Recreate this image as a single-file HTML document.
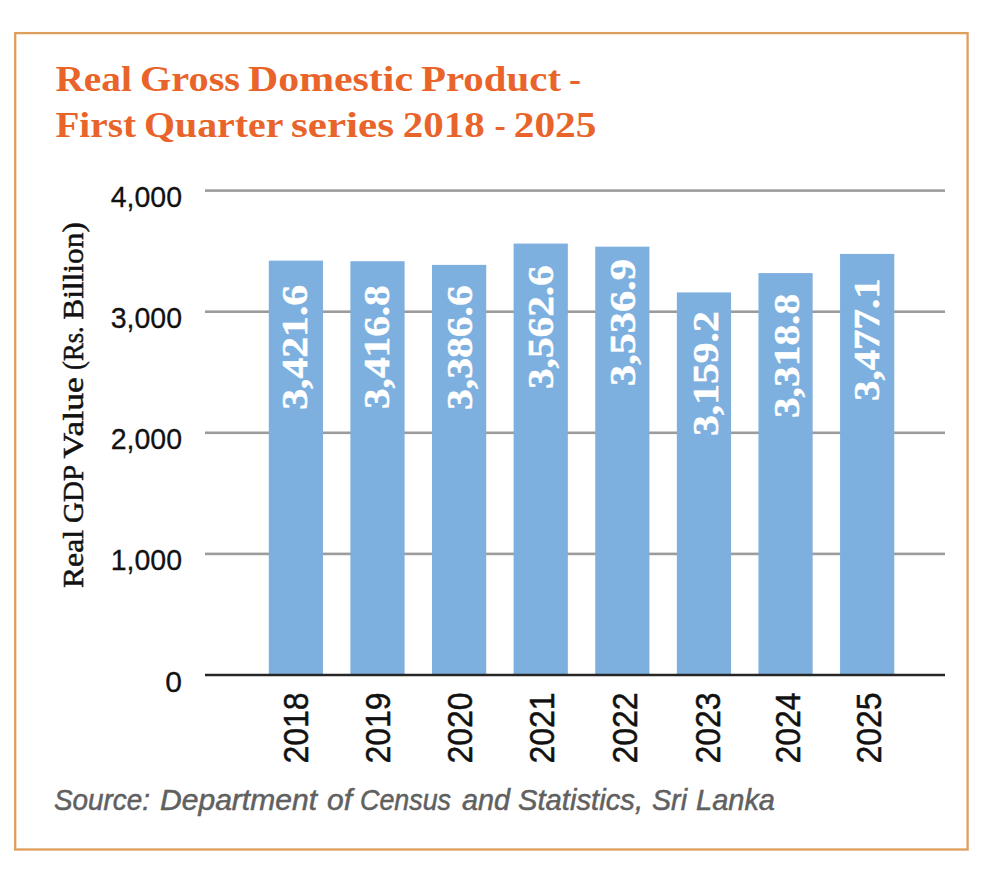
<!DOCTYPE html>
<html><head><meta charset="utf-8">
<style>
html,body{margin:0;padding:0;background:#fff;width:1000px;height:887px;overflow:hidden}
svg{display:block}
.ti{font-family:"Liberation Serif",serif;font-weight:bold;font-size:36.5px;fill:#E9642A}
.bl{font-family:"Liberation Serif",serif;font-weight:bold;font-size:36.5px;fill:#fff;stroke:#fff;stroke-width:0.5px}
.yr{font-family:"Liberation Sans",sans-serif;font-size:35px;fill:#111;stroke:#111;stroke-width:0.5px}
.tk{font-family:"Liberation Sans",sans-serif;font-size:30px;fill:#111;stroke:#111;stroke-width:0.3px}
.ax{font-family:"Liberation Serif",serif;font-size:30px;fill:#111;stroke:#111;stroke-width:0.5px}
.src{font-family:"Liberation Sans",sans-serif;font-style:italic;font-size:29px;fill:#606060;stroke:#606060;stroke-width:0.5px}
</style></head><body>
<svg width="1000" height="887" viewBox="0 0 1000 887">
<rect x="15.2" y="33.1" width="952.4" height="816.4" fill="none" stroke="#DF9F5C" stroke-width="2.3"/>
<text x="55.40" y="91.3" class="ti" textLength="76.60" lengthAdjust="spacingAndGlyphs">Real</text><text x="140.00" y="91.3" class="ti" textLength="100.00" lengthAdjust="spacingAndGlyphs">Gross</text><text x="248.00" y="91.3" class="ti" textLength="165.00" lengthAdjust="spacingAndGlyphs">Domestic</text><text x="421.00" y="91.3" class="ti" textLength="140.00" lengthAdjust="spacingAndGlyphs">Product</text><text x="569.00" y="91.3" class="ti" textLength="12.00" lengthAdjust="spacingAndGlyphs">-</text><text x="55.40" y="137" class="ti" textLength="80.60" lengthAdjust="spacingAndGlyphs">First</text><text x="144.00" y="137" class="ti" textLength="139.50" lengthAdjust="spacingAndGlyphs">Quarter</text><text x="291.00" y="137" class="ti" textLength="103.00" lengthAdjust="spacingAndGlyphs">series</text><text x="402.80" y="137" class="ti" textLength="81.80" lengthAdjust="spacingAndGlyphs">2018</text><text x="494.50" y="137" class="ti" textLength="11.20" lengthAdjust="spacingAndGlyphs">-</text><text x="513.70" y="137" class="ti" textLength="82.80" lengthAdjust="spacingAndGlyphs">2025</text>
<rect x="205" y="552.60" width="740" height="2.6" fill="#9C9C9C"/>
<rect x="205" y="431.50" width="740" height="2.6" fill="#9C9C9C"/>
<rect x="205" y="310.40" width="740" height="2.6" fill="#9C9C9C"/>
<rect x="205" y="189.30" width="740" height="2.6" fill="#9C9C9C"/>

<rect x="268.80" y="260.64" width="54.2" height="414.36" fill="#7DAFDF"/><rect x="350.41" y="261.23" width="54.2" height="413.77" fill="#7DAFDF"/><rect x="432.02" y="264.88" width="54.2" height="410.12" fill="#7DAFDF"/><rect x="513.63" y="243.57" width="54.2" height="431.43" fill="#7DAFDF"/><rect x="595.24" y="246.68" width="54.2" height="428.32" fill="#7DAFDF"/><rect x="676.85" y="292.42" width="54.2" height="382.58" fill="#7DAFDF"/><rect x="758.46" y="273.09" width="54.2" height="401.91" fill="#7DAFDF"/><rect x="840.07" y="253.92" width="54.2" height="421.08" fill="#7DAFDF"/>
<rect x="205" y="673.75" width="740" height="2.5" fill="#262626"/>
<text x="182" y="691.5" class="tk" text-anchor="end">0</text>
<text x="182" y="570.4" class="tk" text-anchor="end" textLength="71.3" lengthAdjust="spacingAndGlyphs">1,000</text>
<text x="182" y="449.3" class="tk" text-anchor="end" textLength="71.3" lengthAdjust="spacingAndGlyphs">2,000</text>
<text x="182" y="328.2" class="tk" text-anchor="end" textLength="71.3" lengthAdjust="spacingAndGlyphs">3,000</text>
<text x="182" y="207.1" class="tk" text-anchor="end" textLength="71.3" lengthAdjust="spacingAndGlyphs">4,000</text>

<text transform="translate(83,588.0) rotate(-90)" class="ax" textLength="58.0" lengthAdjust="spacingAndGlyphs">Real</text>
<text transform="translate(83,522.9) rotate(-90)" class="ax" textLength="58.2" lengthAdjust="spacingAndGlyphs">GDP</text>
<text transform="translate(83,458.4) rotate(-90)" class="ax" textLength="81.3" lengthAdjust="spacingAndGlyphs">Value</text>
<text transform="translate(83,369.9) rotate(-90)" class="ax" textLength="43.6" lengthAdjust="spacingAndGlyphs">(Rs.</text>
<text transform="translate(83,319.8) rotate(-90)" class="ax" textLength="97.7" lengthAdjust="spacingAndGlyphs">Billion)</text>

<text transform="translate(307.1,409.8) rotate(-90)" class="bl" textLength="125.0" lengthAdjust="spacingAndGlyphs">3,421.6</text><text transform="translate(307.5,763.5) rotate(-90)" class="yr" textLength="71" lengthAdjust="spacingAndGlyphs">2018</text><text transform="translate(388.8,409.0) rotate(-90)" class="bl" textLength="123.7" lengthAdjust="spacingAndGlyphs">3,416.8</text><text transform="translate(390.0,763.5) rotate(-90)" class="yr" textLength="71" lengthAdjust="spacingAndGlyphs">2019</text><text transform="translate(472.2,410.0) rotate(-90)" class="bl" textLength="124.7" lengthAdjust="spacingAndGlyphs">3,386.6</text><text transform="translate(472.0,763.5) rotate(-90)" class="yr" textLength="71" lengthAdjust="spacingAndGlyphs">2020</text><text transform="translate(553.2,389.0) rotate(-90)" class="bl" textLength="123.7" lengthAdjust="spacingAndGlyphs">3,562.6</text><text transform="translate(554.4,763.5) rotate(-90)" class="yr" textLength="71" lengthAdjust="spacingAndGlyphs">2021</text><text transform="translate(634.5,386.0) rotate(-90)" class="bl" textLength="126.8" lengthAdjust="spacingAndGlyphs">3,536.9</text><text transform="translate(637.3,763.5) rotate(-90)" class="yr" textLength="71" lengthAdjust="spacingAndGlyphs">2022</text><text transform="translate(718.2,436.0) rotate(-90)" class="bl" textLength="124.7" lengthAdjust="spacingAndGlyphs">3,159.2</text><text transform="translate(719.9,763.5) rotate(-90)" class="yr" textLength="71" lengthAdjust="spacingAndGlyphs">2023</text><text transform="translate(799.2,418.1) rotate(-90)" class="bl" textLength="124.3" lengthAdjust="spacingAndGlyphs">3,318.8</text><text transform="translate(799.9,763.5) rotate(-90)" class="yr" textLength="71" lengthAdjust="spacingAndGlyphs">2024</text><text transform="translate(879.2,401.0) rotate(-90)" class="bl" textLength="122.6" lengthAdjust="spacingAndGlyphs">3,477.1</text><text transform="translate(881.2,763.5) rotate(-90)" class="yr" textLength="71" lengthAdjust="spacingAndGlyphs">2025</text>
<text x="54.00" y="809.5" class="src" textLength="96.00" lengthAdjust="spacingAndGlyphs">Source:</text><text x="160.00" y="809.5" class="src" textLength="157.00" lengthAdjust="spacingAndGlyphs">Department</text><text x="327.00" y="809.5" class="src" textLength="25.00" lengthAdjust="spacingAndGlyphs">of</text><text x="360.00" y="809.5" class="src" textLength="91.00" lengthAdjust="spacingAndGlyphs">Census</text><text x="462.00" y="809.5" class="src" textLength="48.00" lengthAdjust="spacingAndGlyphs">and</text><text x="518.00" y="809.5" class="src" textLength="125.00" lengthAdjust="spacingAndGlyphs">Statistics,</text><text x="652.00" y="809.5" class="src" textLength="35.00" lengthAdjust="spacingAndGlyphs">Sri</text><text x="696.00" y="809.5" class="src" textLength="79.00" lengthAdjust="spacingAndGlyphs">Lanka</text>
</svg>
</body></html>
